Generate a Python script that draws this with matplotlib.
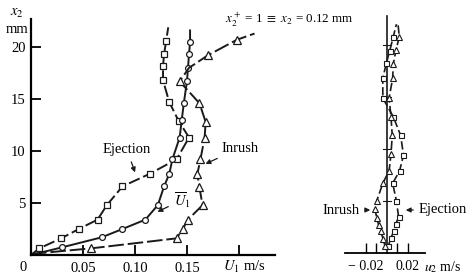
import matplotlib
matplotlib.use("Agg")
import matplotlib.pyplot as plt

plt.rcParams['font.family'] = ['Liberation Serif', 'DejaVu Serif']
plt.rcParams['mathtext.fontset'] = 'stix'

W, H = 474, 279

# left panel: U1 [m/s] against x2 [mm]
ej_x2 = [0, 0.64, 1.6, 2.5, 3.4, 4.8, 6.6, 7.8, 9.2, 11.3, 12.9, 14.7, 16.8, 18.2, 19.3, 20.6, 21.9]
ej_u1 = [0, 0.008, 0.029, 0.046, 0.064, 0.073, 0.088, 0.114, 0.140, 0.152, 0.142, 0.133, 0.127, 0.127, 0.128, 0.130, 0.132]

mean_x2 = [0, 0.74, 1.7, 2.5, 3.4, 4.8, 6.6, 7.8, 9.2, 11.3, 13.0, 14.6, 16.7, 18.0, 19.3, 20.5, 21.6]
mean_u1 = [0, 0.030, 0.068, 0.088, 0.110, 0.122, 0.128, 0.133, 0.136, 0.143, 0.145, 0.147, 0.150, 0.151, 0.152, 0.153, 0.153]

in_x2 = [0.1, 0.64, 1.6, 2.5, 3.4, 4.8, 6.5, 7.8, 9.2, 11.3, 12.8, 14.6, 16.7, 18.0, 19.2, 20.7, 21.3]
in_u1 = [0, 0.058, 0.140, 0.146, 0.151, 0.165, 0.162, 0.160, 0.163, 0.167, 0.168, 0.162, 0.143, 0.152, 0.170, 0.198, 0.215]

# right panel: u2 [m/s] against x2 [mm]
ej2_x2 = [0.3, 0.7, 1.4, 2.1, 2.8, 3.5, 5.0, 6.7, 7.9, 9.4, 11.3, 13.1, 14.9, 16.8, 18.3, 19.4, 20.8, 22.0]
ej2_u2 = [0.001, 0.0013, 0.0035, 0.0065, 0.0085, 0.011, 0.009, 0.0054, 0.012, 0.0157, 0.013, 0.006, -0.004, -0.004, -0.0005, 0.0025, 0.006, 0.009]

in2_x2 = [0.3, 0.7, 1.3, 2.1, 2.7, 3.4, 4.2, 5.0, 6.7, 7.9, 9.5, 11.3, 13.1, 14.9, 16.8, 18.2, 19.5, 20.8, 22.0]
in2_u2 = [-0.001, -0.002, -0.0035, -0.006, -0.008, -0.0098, -0.0114, -0.0098, -0.004, 0.002, 0.0038, 0.005, 0.0038, 0.002, 0.0054, 0.006, 0.0086, 0.0117, 0.0105]

LC = '#1a1a1a'

fig = plt.figure(figsize=(W / 100, H / 100), dpi=100)

# ---- left panel
ax = fig.add_axes([31 / W, 24 / H, 244 / W, 236 / H])
ax.patch.set_visible(False)
ax.set_xlim(0, 0.2347)
ax.set_ylim(0, 22.7)
for s in ['top', 'right']:
    ax.spines[s].set_visible(False)
for s in ['left', 'bottom']:
    ax.spines[s].set_linewidth(1.6)
ax.set_xticks([0.05, 0.10, 0.15, 0.20])
ax.set_xticklabels(['0.05', '0.10', '0.15', ''])
ax.set_yticks([5, 10, 15, 20])
ax.set_yticklabels(['5', '10', '15', '20'])
ax.tick_params(direction='in', length=7, width=1.3, labelsize=10.5, pad=4)
ax.tick_params(axis='x', pad=5)

ax.plot(ej_u1, ej_x2, color=LC, lw=1.4, dashes=(6, 2), marker='s', ms=4.6,
        mfc='white', mec=LC, mew=0.9, markevery=list(range(1, len(ej_x2) - 1)), clip_on=False)
ax.plot(mean_u1, mean_x2, color=LC, lw=1.4, marker='o', ms=4.2,
        mfc='white', mec=LC, mew=0.9, markevery=list(range(1, len(mean_x2) - 1)), clip_on=False)
in_marks = [i for i in range(1, len(in_x2) - 1) if i != 13]
ax.plot(in_u1, in_x2, color=LC, lw=1.4, dashes=(8, 2), marker='^', ms=5.2,
        mfc='white', mec=LC, mew=0.9, markevery=in_marks, clip_on=False)

# ---- right panel
ax2 = fig.add_axes([345 / W, 26 / H, 80 / W, 234 / H])
ax2.patch.set_visible(False)
ax2.set_xlim(-0.040, 0.0362)
ax2.set_ylim(0, 22.5)
for s in ['top', 'right', 'left']:
    ax2.spines[s].set_visible(False)
ax2.spines['bottom'].set_linewidth(1.3)
ax2.set_yticks([])
ax2.set_xticks([-0.02, -0.01, 0.01, 0.02])
ax2.set_xticklabels(['\u2212 0.02', '', '', '0.02'])
ax2.tick_params(direction='in', length=7, width=1.0, labelsize=10, pad=5)
ax2.plot([0, 0], [0, 22.8], color=LC, lw=1.2, clip_on=False)
for yv in [5, 10, 15, 20]:
    ax2.plot([-0.0035, 0.0035], [yv, yv], color=LC, lw=0.8)

ax2.plot(ej2_u2, ej2_x2, color=LC, lw=1.2, dashes=(5, 2), marker='s', ms=3.6,
         mfc='white', mec=LC, mew=0.8, markevery=list(range(1, len(ej2_x2) - 1)), clip_on=False)
ax2.plot(in2_u2, in2_x2, color=LC, lw=1.2, dashes=(5, 2), marker='^', ms=4,
         mfc='white', mec=LC, mew=0.8, markevery=list(range(1, len(in2_x2) - 1)), clip_on=False)


def F(x, y):
    # pixel position (from top-left) -> figure fraction
    return (x / W, 1 - y / H)


fs = 10.5
fig.text(*F(10, 16), r'$x_2$', fontsize=fs)
fig.text(*F(6, 33), 'mm', fontsize=fs)
fig.text(*F(19, 271), '0', fontsize=fs)
fig.text(*F(223, 271), r'$U_1$ m/s', fontsize=fs)
fig.text(*F(424, 271), r'$u_2$ m/s', fontsize=10)
fig.text(*F(225, 23), r'$x_2^+$ = 1 $\equiv$ $x_2$ = 0.12 mm', fontsize=9.4)

arr = dict(arrowstyle='-|>', color=LC, lw=0.9, mutation_scale=7)
notes = [
    (ax, 'Ejection', (136, 175), (127, 150)),
    (ax, r'$\overline{U}_1$', (155, 213), (182, 200)),
    (ax, 'Inrush', (203, 165), (240, 148)),
    (ax2, 'Inrush', (373, 210), (341, 210)),
    (ax2, 'Ejection', (403, 210), (443, 210)),
]
for a, txt, tip, pos in notes:
    a.annotate(txt, xy=F(*tip), xytext=F(*pos), xycoords='figure fraction',
               textcoords='figure fraction', fontsize=fs, ha='center', va='center',
               arrowprops=arr, annotation_clip=False)

fig.savefig('out.png', dpi=100)
